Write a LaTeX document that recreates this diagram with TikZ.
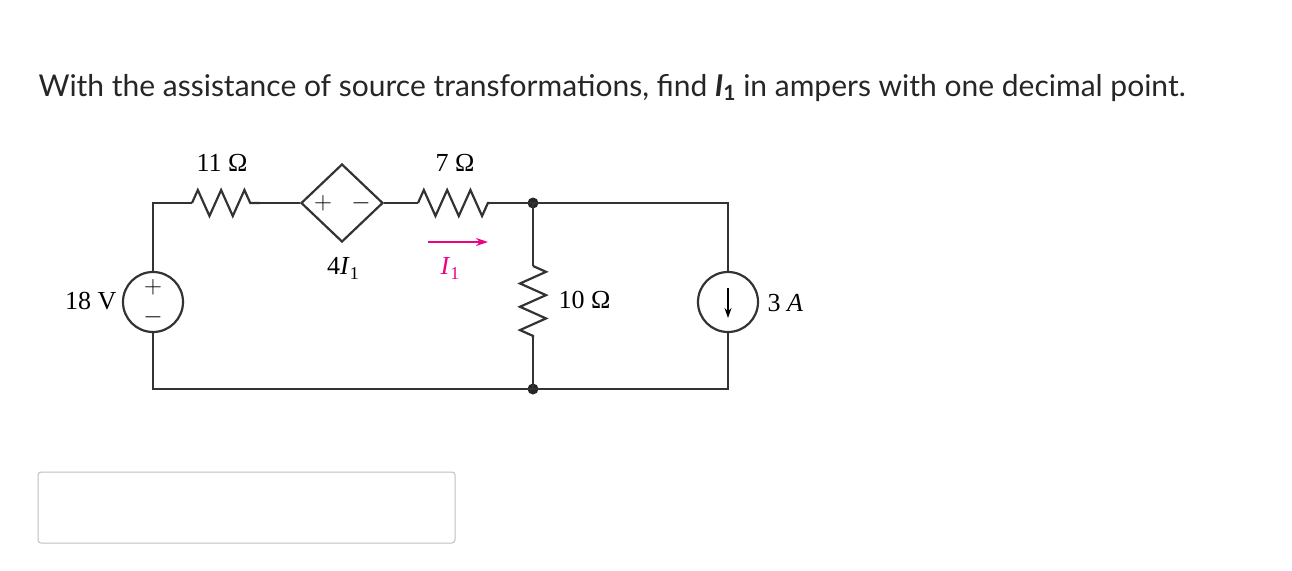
\documentclass[tikz,border=0pt]{standalone}
\usepackage{fontspec}
\setmainfont{Liberation Serif}
\newfontfamily\latofont{Lato}
\usetikzlibrary{decorations.pathmorphing,arrows.meta,shapes.geometric}
\begin{document}
\begin{tikzpicture}[x=1pt,y=-1pt,
  wire/.style={line width=2.2pt,draw=black!80},
  res/.style={wire,decorate,decoration={zigzag,segment length=23.3,amplitude=13}},
  lbl/.style={font=\fontsize{26}{30}\selectfont},
  dot/.style={circle,fill=black!85,inner sep=0,minimum size=11}]
\useasboundingbox (0,0) rectangle (1292,570);
\node[anchor=west,font=\latofont\fontsize{30}{34}\selectfont,text=black!85] (title) at (35,88)
  {With the assistance of source transformations, find \textbf{\textit{I}\raisebox{-4pt}{\fontsize{21}{24}\selectfont 1}} in ampers with one decimal point.};
% coordinates
\coordinate (tl) at (153,203); \coordinate (bl) at (153,389);
\coordinate (r1a) at (192,203); \coordinate (r1b) at (260,203);
\node[diamond,draw=black!80,line width=2.2pt,minimum width=82,minimum height=78,inner sep=0] (dep) at (342,203) {};
\coordinate (r2a) at (418,203); \coordinate (r2b) at (490,203);
\node[dot] (nt) at (533,203) {}; \node[dot] (nb) at (533,389) {};
\coordinate (r3a) at (533,266); \coordinate (r3b) at (533,338);
\coordinate (tr) at (728,203); \coordinate (br) at (728,389);
\node[circle,draw=black!80,line width=2.2pt,minimum size=60,inner sep=0] (vs) at (153,302) {};
\node[circle,draw=black!80,line width=2.2pt,minimum size=60,inner sep=0] (cs) at (728,302) {};
% wires
\draw[wire] (vs.north) -- (tl) -- (r1a);
\draw[res] (r1a) -- (r1b);
\draw[wire] (r1b) -- (dep.west);
\draw[wire] (dep.east) -- (r2a);
\draw[res] (r2a) -- (r2b);
\draw[wire] (r2b) -- (nt.center) -- (tr) -- (cs.north);
\draw[wire] (nt.center) -- (r3a);
\draw[res] (r3a) -- (r3b);
\draw[wire] (r3b) -- (nb.center);
\draw[wire] (vs.south) -- (bl) -- (br) -- (cs.south);
% source marks
\node[lbl] (vp) at (153,287) {$+$};
\node[lbl] (vm) at (153,317) {$-$};
\node[lbl] (dp) at (323,203) {$+$};
\node[lbl] (dm) at (361,203) {$-$};
\draw[line width=1.6pt,-{Stealth[length=10pt,width=7pt]}] (728,288) -- (728,318);
% current arrow
\coordinate (ia) at (428,242); \coordinate (ib) at (488,242);
\draw[line width=2pt,draw=magenta!90!red,-{Stealth[length=12pt,width=8pt]}] (ia) -- (ib);
% labels
\node[lbl] (l11) at (222,163) {11 Ω};
\node[lbl] (l7) at (455,163) {7 Ω};
\node[lbl] (l4) at (343,268) {4\textit{I}\raisebox{-5pt}{\fontsize{18}{20}\selectfont 1}};
\node[lbl,text=magenta!90!red] (li) at (450,268) {\textit{I}\raisebox{-5pt}{\fontsize{18}{20}\selectfont 1}};
\node[lbl,anchor=east] (l18) at (120,301) {18 V};
\node[lbl,anchor=west] (l10) at (555,300) {10 Ω};
\node[lbl,anchor=west] (l3) at (764,303) {3 \textit{A}};
% answer box
\draw[rounded corners=3pt,draw=black!25,line width=1pt] (38,472) rectangle (455,543);
\end{tikzpicture}
\end{document}
